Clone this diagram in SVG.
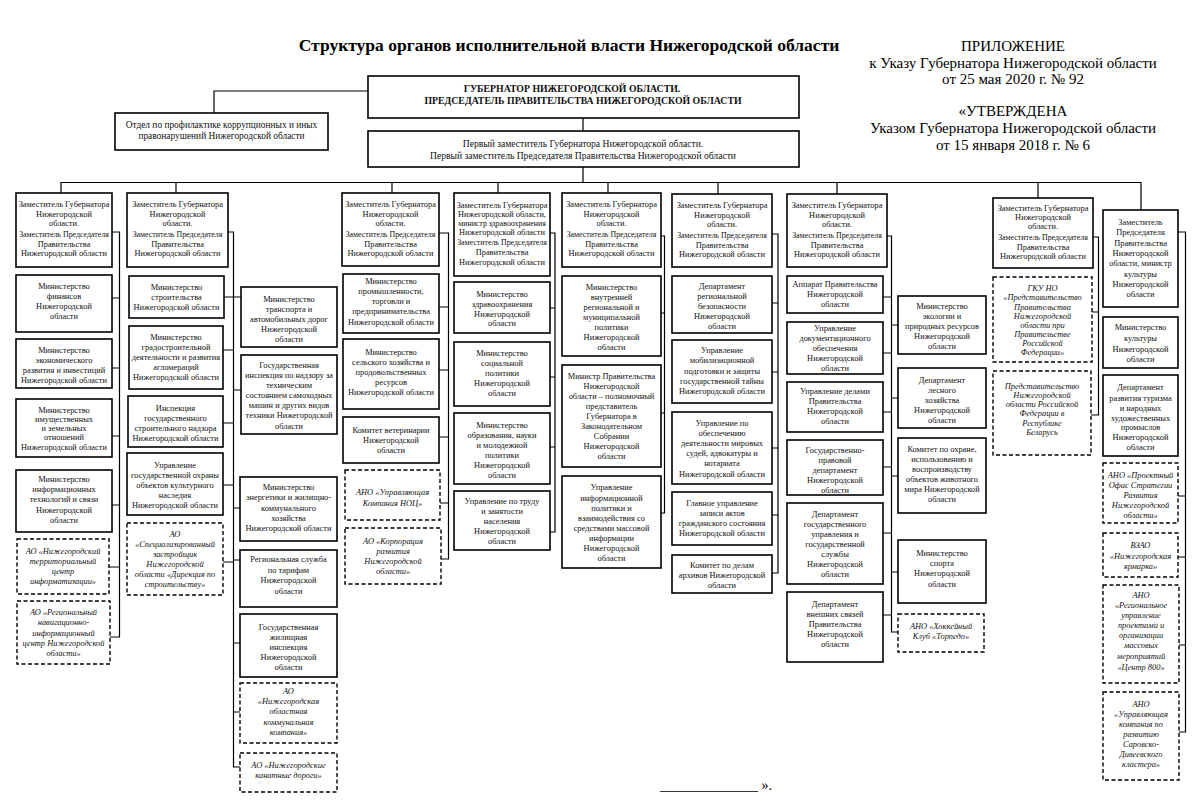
<svg xmlns="http://www.w3.org/2000/svg" width="1200" height="801" viewBox="0 0 1200 801">
<style>
.b{fill:#fff;stroke:#000;stroke-width:1.6}
.d{fill:#fff;stroke:#000;stroke-width:1.4;stroke-dasharray:4 2.5}
.t{font-family:"Liberation Serif","Times New Roman",serif;font-size:8.4px;text-anchor:middle;fill:#111}
.n{font-size:7.9px}
.i{font-style:italic}
.c{fill:none;stroke:#000;stroke-width:1.2}
.h{font-family:"Liberation Serif","Times New Roman",serif;font-size:15px;text-anchor:middle;fill:#000}
.ttl{font-weight:bold;font-size:17.5px}
.g{font-weight:bold;font-size:9.8px}
.m{font-size:9.4px}
</style>
<rect width="1200" height="801" fill="#fff"/>
<text class="h ttl" x="569" y="51">Структура органов исполнительной власти Нижегородской области</text>
<g id="header-right" class="h">
<text x="1013" y="51">ПРИЛОЖЕНИЕ</text>
<text x="1013" y="68">к Указу Губернатора Нижегородской области</text>
<text x="1013" y="84">от 25 мая 2020 г. № 92</text>
<text x="1013" y="116">«УТВЕРЖДЕНА</text>
<text x="1013" y="133">Указом Губернатора Нижегородской области</text>
<text x="1013" y="150">от 15 января 2018 г. № 6</text>
</g>
<g id="connectors" class="c">
<path d="M214,113V91H368 M583,118V131 M583,167V182.5 M61,193V182.5H1141V210 M176,182.5V193 M392,182.5V193 M498,182.5V193 M608,182.5V193 M718,182.5V194 M837,182.5V194 M1038,182.5V198
M112,232H119.5V637H110 M112,298H119.5 M112,368H119.5 M112,436H119.5 M112,505H119.5 M109,567H119.5
M228,232H233.5V767H240 M224,297H241 M223,350H233.5 M223,423H233.5 M223,485H233.5 M223,562H233.5 M233.5,390H241 M233.5,508H240 M233.5,560H240 M233.5,643H240 M233.5,712H240
M439,233H448.5V559H441 M439,307H448.5 M439,370H448.5 M439,437H448.5 M440,503H448.5
M550,233H555V532H550 M550,308H555 M550,377H555 M550,447H555
M661,236H664.5V513H661 M661,313H664.5 M661,413H664.5
M772,234H778V573H772 M772,303H778 M772,372H778 M772,448H778 M772,515H778
M887,236H891.5V632H898 M883,297H891.5 M883,353H891.5 M883,412H891.5 M883,467H891.5 M883,533H891.5 M883,615H891.5 M891.5,325H898 M891.5,398H898 M891.5,476H898 M891.5,572H898
M1093,237H1098.5V415H1091 M1092,312H1098.5
M1178,232H1185.5V732H1179 M1178,496H1185.5 M1178,557H1185.5 M1179,645H1185.5"/>
</g>
<g id="governor"><rect class="b" x="368" y="76" width="431" height="42"/>
<text class="t g"><tspan x="572" y="92">ГУБЕРНАТОР НИЖЕГОРОДСКОЙ ОБЛАСТИ.</tspan><tspan x="583" y="103.5">ПРЕДСЕДАТЕЛЬ ПРАВИТЕЛЬСТВА НИЖЕГОРОДСКОЙ ОБЛАСТИ</tspan></text></g>
<g id="anticorruption"><rect class="b" x="115" y="113" width="213" height="37"/>
<text class="t m"><tspan x="221.5" y="127.5">Отдел по профилактике коррупционных и иных</tspan><tspan x="221.5" y="138.5">правонарушений Нижегородской области</tspan></text></g>
<g id="first-deputy"><rect class="b" x="368" y="131" width="431" height="36"/>
<text class="t" style="font-size:9.6px"><tspan x="583" y="147">Первый заместитель Губернатора Нижегородской области.</tspan><tspan x="583" y="158.5">Первый заместитель Председателя Правительства Нижегородской области</tspan></text></g>

<g id="dep1"><rect class="b" x="16" y="193" width="96" height="74"/>
<text class="t"><tspan x="64" y="207">Заместитель Губернатора</tspan><tspan x="64" y="216.5">Нижегородской</tspan><tspan x="64" y="226">области.</tspan><tspan class="n" x="64" y="236.5">Заместитель Председателя</tspan><tspan x="64" y="246.5">Правительства</tspan><tspan x="64" y="256">Нижегородской области</tspan></text></g>
<g id="min-finance"><rect class="b" x="16" y="275" width="96" height="57"/>
<text class="t"><tspan x="64" y="289">Министерство</tspan><tspan x="64" y="299">финансов</tspan><tspan x="64" y="309">Нижегородской</tspan><tspan x="64" y="319">области</tspan></text></g>
<g id="min-economy"><rect class="b" x="16" y="339" width="96" height="49"/>
<text class="t"><tspan x="64" y="353">Министерство</tspan><tspan x="64" y="363">экономического</tspan><tspan x="64" y="373">развития и инвестиций</tspan><tspan x="64" y="383">Нижегородской области</tspan></text></g>
<g id="min-property"><rect class="b" x="16" y="399" width="96" height="58"/>
<text class="t"><tspan x="64" y="412.5">Министерство</tspan><tspan x="64" y="421.5">имущественных</tspan><tspan x="64" y="430.5">и земельных</tspan><tspan x="64" y="439.5">отношений</tspan><tspan x="64" y="449.5">Нижегородской области</tspan></text></g>
<g id="min-it"><rect class="b" x="16" y="470" width="96" height="62"/>
<text class="t"><tspan x="64" y="481.5">Министерство</tspan><tspan x="64" y="491.5">информационных</tspan><tspan x="64" y="501.5">технологий и связи</tspan><tspan x="64" y="512.5">Нижегородской</tspan><tspan x="64" y="522.5">области</tspan></text></g>
<g id="ao-ntci"><rect class="d" x="17" y="539" width="92" height="55"/>
<text class="t i"><tspan x="63" y="554">АО «Нижегородский</tspan><tspan x="63" y="564">территориальный</tspan><tspan x="63" y="574">центр</tspan><tspan x="63" y="584">информатизации»</tspan></text></g>
<g id="ao-rnic"><rect class="d" x="17" y="601" width="93" height="63"/>
<text class="t i"><tspan x="63.5" y="615">АО «Региональный</tspan><tspan x="63.5" y="625">навигационно-</tspan><tspan x="63.5" y="635.5">информационный</tspan><tspan x="63.5" y="645.5">центр Нижегородской</tspan><tspan x="63.5" y="656">области»</tspan></text></g>

<g id="dep2"><rect class="b" x="127" y="193" width="101" height="74"/>
<text class="t"><tspan x="177.5" y="207">Заместитель Губернатора</tspan><tspan x="177.5" y="216.5">Нижегородской</tspan><tspan x="177.5" y="226">области.</tspan><tspan class="n" x="177.5" y="236.5">Заместитель Председателя</tspan><tspan x="177.5" y="246.5">Правительства</tspan><tspan x="177.5" y="256">Нижегородской области</tspan></text></g>
<g id="min-construction"><rect class="b" x="129" y="276" width="95" height="42"/>
<text class="t"><tspan x="176.5" y="290">Министерство</tspan><tspan x="176.5" y="300">строительства</tspan><tspan x="176.5" y="310">Нижегородской области</tspan></text></g>
<g id="min-urban"><rect class="b" x="129" y="326" width="94" height="63"/>
<text class="t"><tspan x="176" y="340">Министерство</tspan><tspan x="176" y="350">градостроительной</tspan><tspan x="176" y="360">деятельности и развития</tspan><tspan x="176" y="370">агломераций</tspan><tspan x="176" y="380">Нижегородской области</tspan></text></g>
<g id="insp-construction"><rect class="b" x="128" y="396" width="95" height="51"/>
<text class="t"><tspan x="175.5" y="410.5">Инспекция</tspan><tspan x="175.5" y="420.5">государственного</tspan><tspan x="175.5" y="430.5">строительного надзора</tspan><tspan x="175.5" y="440.5">Нижегородской области</tspan></text></g>
<g id="upr-heritage"><rect class="b" x="127" y="453" width="96" height="62"/>
<text class="t"><tspan x="175" y="468">Управление</tspan><tspan x="175" y="478">государственной охраны</tspan><tspan x="175" y="488">объектов культурного</tspan><tspan x="175" y="497.5">наследия</tspan><tspan x="175" y="507.5">Нижегородской области</tspan></text></g>
<g id="ao-developer"><rect class="d" x="127" y="523" width="96" height="72"/>
<text class="t i"><tspan x="175" y="536.5">АО</tspan><tspan x="175" y="546.5">«Специализированный</tspan><tspan x="175" y="556.5">застройщик</tspan><tspan x="175" y="567">Нижегородской</tspan><tspan x="175" y="577">области «Дирекция по</tspan><tspan x="175" y="587">строительству»</tspan></text></g>

<g id="min-transport"><rect class="b" x="241" y="287" width="96" height="60"/>
<text class="t"><tspan x="289" y="301.5">Министерство</tspan><tspan x="289" y="311.5">транспорта и</tspan><tspan x="289" y="321.5">автомобильных дорог</tspan><tspan x="289" y="331.5">Нижегородской</tspan><tspan x="289" y="341.5">области</tspan></text></g>
<g id="insp-machines"><rect class="b" x="241" y="355" width="96" height="79"/>
<text class="t"><tspan x="289" y="368">Государственная</tspan><tspan x="289" y="378">инспекция по надзору за</tspan><tspan x="289" y="388">техническим</tspan><tspan x="289" y="398">состоянием самоходных</tspan><tspan x="289" y="408">машин и других видов</tspan><tspan x="289" y="418">техники Нижегородской</tspan><tspan x="289" y="429">области</tspan></text></g>
<g id="min-energy"><rect class="b" x="240" y="477" width="97" height="64"/>
<text class="t"><tspan x="288.5" y="489.5">Министерство</tspan><tspan x="288.5" y="500">энергетики и жилищно-</tspan><tspan x="288.5" y="511">коммунального</tspan><tspan x="288.5" y="521">хозяйства</tspan><tspan x="288.5" y="531">Нижегородской области</tspan></text></g>
<g id="tariffs"><rect class="b" x="240" y="550" width="97" height="57"/>
<text class="t"><tspan x="288.5" y="562">Региональная служба</tspan><tspan x="288.5" y="572.5">по тарифам</tspan><tspan x="288.5" y="583">Нижегородской</tspan><tspan x="288.5" y="593.5">области</tspan></text></g>
<g id="insp-housing"><rect class="b" x="240" y="614" width="97" height="63"/>
<text class="t"><tspan x="288.5" y="630">Государственная</tspan><tspan x="288.5" y="640">жилищная</tspan><tspan x="288.5" y="650">инспекция</tspan><tspan x="288.5" y="660">Нижегородской</tspan><tspan x="288.5" y="670">области</tspan></text></g>
<g id="ao-communal"><rect class="d" x="240" y="683" width="97" height="60"/>
<text class="t i"><tspan x="288.5" y="693.5">АО</tspan><tspan x="288.5" y="703.5">«Нижегородская</tspan><tspan x="288.5" y="714">областная</tspan><tspan x="288.5" y="724.5">коммунальная</tspan><tspan x="288.5" y="735">компания»</tspan></text></g>
<g id="ao-cableway"><rect class="d" x="240" y="753" width="97" height="39"/>
<text class="t i"><tspan x="288.5" y="768">АО «Нижегородские</tspan><tspan x="288.5" y="778">канатные дороги»</tspan></text></g>

<g id="dep4"><rect class="b" x="342" y="193" width="97" height="73"/>
<text class="t"><tspan x="390.5" y="207">Заместитель Губернатора</tspan><tspan x="390.5" y="216.5">Нижегородской</tspan><tspan x="390.5" y="226">области.</tspan><tspan class="n" x="390.5" y="236.5">Заместитель Председателя</tspan><tspan x="390.5" y="246.5">Правительства</tspan><tspan x="390.5" y="256">Нижегородской области</tspan></text></g>
<g id="min-industry"><rect class="b" x="343" y="274" width="96" height="59"/>
<text class="t"><tspan x="391" y="284">Министерство</tspan><tspan x="391" y="294">промышленности,</tspan><tspan x="391" y="304">торговли и</tspan><tspan x="391" y="314">предпринимательства</tspan><tspan x="391" y="324.5">Нижегородской области</tspan></text></g>
<g id="min-agriculture"><rect class="b" x="343" y="339" width="96" height="70"/>
<text class="t"><tspan x="391" y="355">Министерство</tspan><tspan x="391" y="365">сельского хозяйства и</tspan><tspan x="391" y="375">продовольственных</tspan><tspan x="391" y="384.5">ресурсов</tspan><tspan x="391" y="395">Нижегородской области</tspan></text></g>
<g id="vet"><rect class="b" x="343" y="417" width="96" height="46"/>
<text class="t"><tspan x="391" y="432.5">Комитет ветеринарии</tspan><tspan x="391" y="442.5">Нижегородской</tspan><tspan x="391" y="452.5">области</tspan></text></g>
<g id="ano-noc"><rect class="d" x="345" y="470" width="95" height="50"/>
<text class="t i"><tspan x="392.5" y="495">АНО «Управляющая</tspan><tspan x="392.5" y="506">Компания НОЦ»</tspan></text></g>
<g id="ao-corp"><rect class="d" x="345" y="528" width="96" height="56"/>
<text class="t i"><tspan x="393" y="544">АО «Корпорация</tspan><tspan x="393" y="553.5">развития</tspan><tspan x="393" y="563.5">Нижегородской</tspan><tspan x="393" y="573.5">области»</tspan></text></g>

<g id="dep5"><rect class="b" x="454" y="193" width="96" height="83"/>
<text class="t"><tspan x="502" y="207.5">Заместитель Губернатора</tspan><tspan x="502" y="216.5">Нижегородской области,</tspan><tspan class="n" x="502" y="225.5">министр здравоохранения</tspan><tspan x="502" y="234.5">Нижегородской области</tspan><tspan class="n" x="502" y="245">Заместитель Председателя</tspan><tspan x="502" y="255">Правительства</tspan><tspan x="502" y="264.5">Нижегородской области</tspan></text></g>
<g id="min-health"><rect class="b" x="454" y="282" width="96" height="51"/>
<text class="t"><tspan x="502" y="296.5">Министерство</tspan><tspan x="502" y="306.5">здравоохранения</tspan><tspan x="502" y="316.5">Нижегородской</tspan><tspan x="502" y="326">области</tspan></text></g>
<g id="min-social"><rect class="b" x="454" y="342" width="96" height="64"/>
<text class="t"><tspan x="502" y="356">Министерство</tspan><tspan x="502" y="366">социальной</tspan><tspan x="502" y="376">политики</tspan><tspan x="502" y="386">Нижегородской</tspan><tspan x="502" y="396">области</tspan></text></g>
<g id="min-education"><rect class="b" x="454" y="413" width="96" height="71"/>
<text class="t"><tspan x="502" y="428">Министерство</tspan><tspan x="502" y="438">образования, науки</tspan><tspan x="502" y="448">и молодежной</tspan><tspan x="502" y="458">политики</tspan><tspan x="502" y="468">Нижегородской</tspan><tspan x="502" y="478">области</tspan></text></g>
<g id="upr-labor"><rect class="b" x="454" y="491" width="96" height="59"/>
<text class="t"><tspan x="502" y="504">Управление по труду</tspan><tspan x="502" y="514">и занятости</tspan><tspan x="502" y="524">населения</tspan><tspan x="502" y="534">Нижегородской</tspan><tspan x="502" y="544">области</tspan></text></g>

<g id="dep6"><rect class="b" x="562" y="193" width="99" height="74"/>
<text class="t"><tspan x="611.5" y="207">Заместитель Губернатора</tspan><tspan x="611.5" y="216.5">Нижегородской</tspan><tspan x="611.5" y="226">области.</tspan><tspan class="n" x="611.5" y="236.5">Заместитель Председателя</tspan><tspan x="611.5" y="246.5">Правительства</tspan><tspan x="611.5" y="256">Нижегородской области</tspan></text></g>
<g id="min-internal"><rect class="b" x="562" y="276" width="99" height="80"/>
<text class="t"><tspan x="611.5" y="290">Министерство</tspan><tspan x="611.5" y="300">внутренней</tspan><tspan x="611.5" y="310">региональной и</tspan><tspan x="611.5" y="320">муниципальной</tspan><tspan x="611.5" y="330">политики</tspan><tspan x="611.5" y="339.5">Нижегородской</tspan><tspan x="611.5" y="349.5">области</tspan></text></g>
<g id="minister-rep"><rect class="b" x="562" y="365" width="99" height="102"/>
<text class="t"><tspan x="611.5" y="379">Министр Правительства</tspan><tspan x="611.5" y="389">Нижегородской</tspan><tspan x="611.5" y="399">области – полномочный</tspan><tspan x="611.5" y="409">представитель</tspan><tspan x="611.5" y="419">Губернатора в</tspan><tspan x="611.5" y="429">Законодательном</tspan><tspan x="611.5" y="439">Собрании</tspan><tspan x="611.5" y="449">Нижегородской</tspan><tspan x="611.5" y="459">области</tspan></text></g>
<g id="upr-info"><rect class="b" x="562" y="476" width="99" height="92"/>
<text class="t"><tspan x="611.5" y="490">Управление</tspan><tspan x="611.5" y="500.5">информационной</tspan><tspan x="611.5" y="510.5">политики и</tspan><tspan x="611.5" y="520.5">взаимодействия со</tspan><tspan x="611.5" y="531">средствами массовой</tspan><tspan x="611.5" y="541">информации</tspan><tspan x="611.5" y="551">Нижегородской</tspan><tspan x="611.5" y="561">области</tspan></text></g>

<g id="dep7"><rect class="b" x="672" y="194" width="100" height="73"/>
<text class="t"><tspan x="722" y="208">Заместитель Губернатора</tspan><tspan x="722" y="217.5">Нижегородской</tspan><tspan x="722" y="227">области.</tspan><tspan class="n" x="722" y="237.5">Заместитель Председателя</tspan><tspan x="722" y="247.5">Правительства</tspan><tspan x="722" y="257">Нижегородской области</tspan></text></g>
<g id="dep-security"><rect class="b" x="672" y="276" width="100" height="57"/>
<text class="t"><tspan x="722" y="289">Департамент</tspan><tspan x="722" y="299">региональной</tspan><tspan x="722" y="309">безопасности</tspan><tspan x="722" y="319">Нижегородской</tspan><tspan x="722" y="329">области</tspan></text></g>
<g id="upr-mobilization"><rect class="b" x="672" y="340" width="100" height="63"/>
<text class="t"><tspan x="722" y="353">Управление</tspan><tspan x="722" y="363">мобилизационной</tspan><tspan x="722" y="374">подготовки и защиты</tspan><tspan x="722" y="384">государственной тайны</tspan><tspan x="722" y="394">Нижегородской области</tspan></text></g>
<g id="upr-judges"><rect class="b" x="672" y="412" width="100" height="72"/>
<text class="t"><tspan x="722" y="426">Управление по</tspan><tspan x="722" y="436">обеспечению</tspan><tspan x="722" y="446">деятельности мировых</tspan><tspan x="722" y="456">судей, адвокатуры и</tspan><tspan x="722" y="466">нотариата</tspan><tspan x="722" y="476.5">Нижегородской области</tspan></text></g>
<g id="zags"><rect class="b" x="672" y="492" width="100" height="53"/>
<text class="t"><tspan x="722" y="506">Главное управление</tspan><tspan x="722" y="516">записи актов</tspan><tspan x="722" y="526">гражданского состояния</tspan><tspan x="722" y="536">Нижегородской области</tspan></text></g>
<g id="archives"><rect class="b" x="672" y="555" width="100" height="38"/>
<text class="t"><tspan x="722" y="568">Комитет по делам</tspan><tspan x="722" y="578">архивов Нижегородской</tspan><tspan x="722" y="588">области</tspan></text></g>

<g id="dep8"><rect class="b" x="787" y="194" width="100" height="73"/>
<text class="t"><tspan x="837" y="208">Заместитель Губернатора</tspan><tspan x="837" y="217.5">Нижегородской</tspan><tspan x="837" y="227">области.</tspan><tspan class="n" x="837" y="237.5">Заместитель Председателя</tspan><tspan x="837" y="247.5">Правительства</tspan><tspan x="837" y="257">Нижегородской области</tspan></text></g>
<g id="apparat"><rect class="b" x="787" y="276" width="96" height="37"/>
<text class="t"><tspan x="835" y="286.5">Аппарат Правительства</tspan><tspan x="835" y="296.5">Нижегородской</tspan><tspan x="835" y="306.5">области</tspan></text></g>
<g id="upr-docs"><rect class="b" x="787" y="322" width="96" height="52"/>
<text class="t"><tspan x="835" y="331">Управление</tspan><tspan x="835" y="341">документационного</tspan><tspan x="835" y="351">обеспечения</tspan><tspan x="835" y="361">Нижегородской</tspan><tspan x="835" y="370.5">области</tspan></text></g>
<g id="upr-affairs"><rect class="b" x="787" y="382" width="96" height="50"/>
<text class="t"><tspan x="835" y="394">Управление делами</tspan><tspan x="835" y="404">Правительства</tspan><tspan x="835" y="414">Нижегородской</tspan><tspan x="835" y="424">области</tspan></text></g>
<g id="dep-legal"><rect class="b" x="787" y="440" width="96" height="55"/>
<text class="t"><tspan x="835" y="453">Государственно-</tspan><tspan x="835" y="463">правовой</tspan><tspan x="835" y="472.5">департамент</tspan><tspan x="835" y="482.5">Нижегородской</tspan><tspan x="835" y="492.5">области</tspan></text></g>
<g id="dep-civil"><rect class="b" x="787" y="503" width="96" height="81"/>
<text class="t"><tspan x="835" y="516.5">Департамент</tspan><tspan x="835" y="526.5">государственного</tspan><tspan x="835" y="537">управления и</tspan><tspan x="835" y="547">государственной</tspan><tspan x="835" y="557">службы</tspan><tspan x="835" y="567">Нижегородской</tspan><tspan x="835" y="577">области</tspan></text></g>
<g id="dep-external"><rect class="b" x="787" y="592" width="96" height="70"/>
<text class="t"><tspan x="835" y="607">Департамент</tspan><tspan x="835" y="617">внешних связей</tspan><tspan x="835" y="627">Правительства</tspan><tspan x="835" y="637">Нижегородской</tspan><tspan x="835" y="647">области</tspan></text></g>

<g id="min-ecology"><rect class="b" x="898" y="296" width="88" height="58"/>
<text class="t"><tspan x="942" y="309">Министерство</tspan><tspan x="942" y="319">экологии и</tspan><tspan x="942" y="329">природных ресурсов</tspan><tspan x="942" y="339">Нижегородской</tspan><tspan x="942" y="348.5">области</tspan></text></g>
<g id="dep-forest"><rect class="b" x="898" y="368" width="88" height="60"/>
<text class="t"><tspan x="942" y="382.5">Департамент</tspan><tspan x="942" y="392.5">лесного</tspan><tspan x="942" y="402.5">хозяйства</tspan><tspan x="942" y="412.5">Нижегородской</tspan><tspan x="942" y="422.5">области</tspan></text></g>
<g id="fauna"><rect class="b" x="898" y="438" width="88" height="75"/>
<text class="t"><tspan x="942" y="451.5">Комитет по охране,</tspan><tspan x="942" y="461.5">использованию и</tspan><tspan x="942" y="471.5">воспроизводству</tspan><tspan x="942" y="481.5">объектов животного</tspan><tspan x="942" y="491.5">мира Нижегородской</tspan><tspan x="942" y="501.5">области</tspan></text></g>
<g id="min-sport"><rect class="b" x="898" y="540" width="88" height="63"/>
<text class="t"><tspan x="942" y="556">Министерство</tspan><tspan x="942" y="566">спорта</tspan><tspan x="942" y="576">Нижегородской</tspan><tspan x="942" y="586.5">области</tspan></text></g>
<g id="ano-torpedo"><rect class="d" x="898" y="614" width="86" height="38"/>
<text class="t i"><tspan x="941" y="629">АНО «Хоккейный</tspan><tspan x="941" y="639">Клуб «Торпедо»</tspan></text></g>

<g id="dep10"><rect class="b" x="993" y="198" width="100" height="70"/>
<text class="t"><tspan x="1043" y="210.5">Заместитель Губернатора</tspan><tspan x="1043" y="219.5">Нижегородской</tspan><tspan x="1043" y="228.5">области.</tspan><tspan class="n" x="1043" y="240">Заместитель Председателя</tspan><tspan x="1043" y="249.5">Правительства</tspan><tspan x="1043" y="259">Нижегородской области</tspan></text></g>
<g id="gku-moscow"><rect class="d" x="993" y="277" width="99" height="85"/>
<text class="t i"><tspan x="1042.5" y="290.5">ГКУ НО</tspan><tspan x="1042.5" y="300">«Представительство</tspan><tspan x="1042.5" y="309.5">Правительства</tspan><tspan x="1042.5" y="318.5">Нижегородской</tspan><tspan x="1042.5" y="327.5">области при</tspan><tspan x="1042.5" y="336.5">Правительстве</tspan><tspan x="1042.5" y="346">Российской</tspan><tspan x="1042.5" y="355">Федерации»</tspan></text></g>
<g id="rep-belarus"><rect class="d" x="993" y="371" width="98" height="84"/>
<text class="t i"><tspan x="1042" y="389">Представительство</tspan><tspan x="1042" y="398">Нижегородской</tspan><tspan x="1042" y="407">области Российской</tspan><tspan x="1042" y="416">Федерации в</tspan><tspan x="1042" y="425.5">Республике</tspan><tspan x="1042" y="435">Беларусь</tspan></text></g>

<g id="dep11"><rect class="b" x="1103" y="210" width="75" height="97"/>
<text class="t"><tspan x="1140.5" y="225">Заместитель</tspan><tspan x="1140.5" y="235.3">Председателя</tspan><tspan x="1140.5" y="245.6">Правительства</tspan><tspan x="1140.5" y="255.9">Нижегородской</tspan><tspan x="1140.5" y="266.2">области, министр</tspan><tspan x="1140.5" y="276.5">культуры</tspan><tspan x="1140.5" y="286.8">Нижегородской</tspan><tspan x="1140.5" y="297">области</tspan></text></g>
<g id="min-culture"><rect class="b" x="1103" y="317" width="75" height="51"/>
<text class="t"><tspan x="1140.5" y="330">Министерство</tspan><tspan x="1140.5" y="341">культуры</tspan><tspan x="1140.5" y="351.5">Нижегородской</tspan><tspan x="1140.5" y="362">области</tspan></text></g>
<g id="dep-tourism"><rect class="b" x="1103" y="375" width="75" height="81"/>
<text class="t"><tspan x="1140.5" y="390">Департамент</tspan><tspan x="1140.5" y="400.5">развития туризма</tspan><tspan x="1140.5" y="410.5">и народных</tspan><tspan x="1140.5" y="420.5">художественных</tspan><tspan x="1140.5" y="430">промыслов</tspan><tspan x="1140.5" y="440">Нижегородской</tspan><tspan x="1140.5" y="450">области</tspan></text></g>
<g id="ano-strategy"><rect class="d" x="1103" y="463" width="75" height="60"/>
<text class="t i"><tspan x="1140.5" y="478">АНО «Проектный</tspan><tspan x="1140.5" y="488">Офис Стратегии</tspan><tspan x="1140.5" y="498">Развития</tspan><tspan x="1140.5" y="508">Нижегородской</tspan><tspan x="1140.5" y="518">области»</tspan></text></g>
<g id="vzao-fair"><rect class="d" x="1103" y="533" width="75" height="44"/>
<text class="t i"><tspan x="1140.5" y="548">ВЗАО</tspan><tspan x="1140.5" y="559">«Нижегородская</tspan><tspan x="1140.5" y="569">ярмарка»</tspan></text></g>
<g id="ano-800"><rect class="d" x="1103" y="585" width="76" height="98"/>
<text class="t i"><tspan x="1141" y="598">АНО</tspan><tspan x="1141" y="608">«Региональное</tspan><tspan x="1141" y="618">управление</tspan><tspan x="1141" y="628">проектами и</tspan><tspan x="1141" y="638">организации</tspan><tspan x="1141" y="648">массовых</tspan><tspan x="1141" y="658.5">мероприятий</tspan><tspan x="1141" y="669.5">«Центр 800»</tspan></text></g>
<g id="ano-sarov"><rect class="d" x="1103" y="692" width="76" height="88"/>
<text class="t i"><tspan x="1141" y="706.5">АНО</tspan><tspan x="1141" y="716.5">«Управляющая</tspan><tspan x="1141" y="726.5">компания по</tspan><tspan x="1141" y="736.5">развитию</tspan><tspan x="1141" y="746.5">Саровско-</tspan><tspan x="1141" y="757">Дивеевского</tspan><tspan x="1141" y="767">кластера»</tspan></text></g>

<text x="660" y="790" style="font-family:'Liberation Serif',serif;font-size:14px;fill:#000">______________ ».</text>
</svg>
